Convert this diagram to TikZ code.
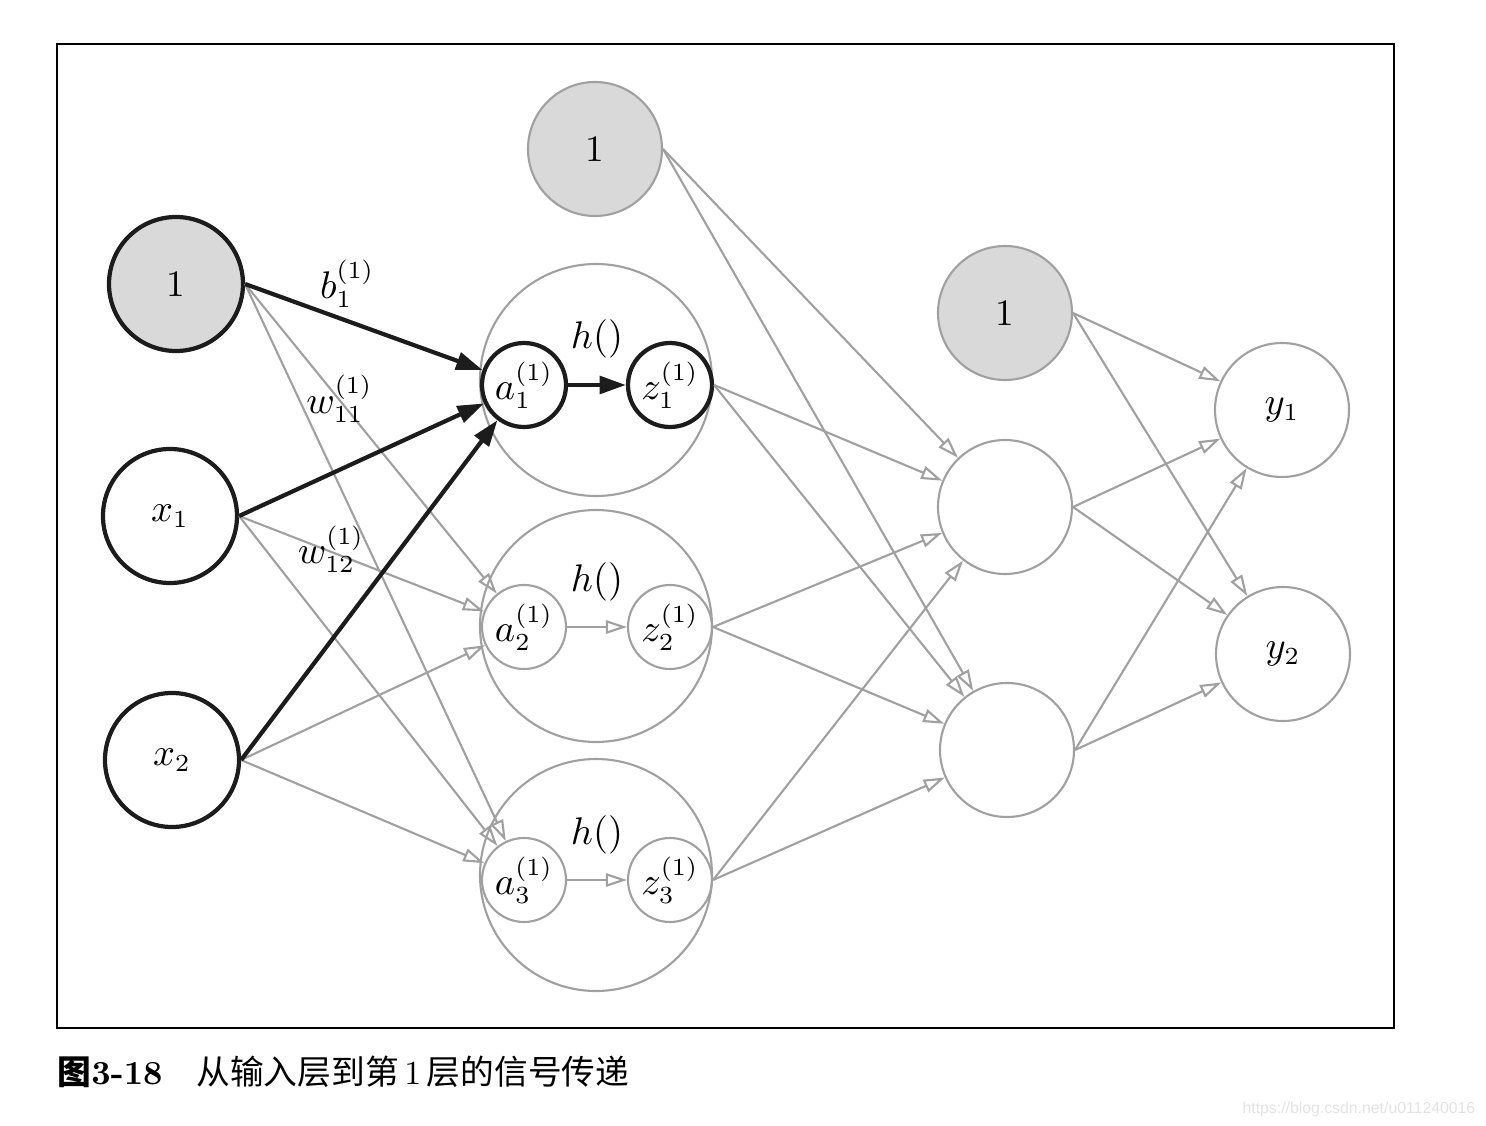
\documentclass[tikz,border=0pt]{standalone}
\usepackage{amsmath}
\usepackage{fontspec}
\usetikzlibrary{arrows.meta}
\newfontfamily\cjkfont{Noto Sans CJK SC}
\newfontfamily\urlfont{Liberation Sans}
\definecolor{mgray}{RGB}{160,160,160}
\definecolor{mfill}{RGB}{217,217,217}
\definecolor{mblack}{RGB}{28,28,28}
\definecolor{mmark}{RGB}{226,226,226}

\begin{document}
\begin{tikzpicture}[
    font=\fontsize{10.6}{12.7}\selectfont,
    neuron/.style={circle, draw=mgray, line width=0.6pt, minimum size=1.34cm, inner sep=0pt},
    active/.style={neuron, draw=mblack, line width=1.2pt},
    inner/.style={circle, draw=mgray, line width=0.6pt, minimum size=0.84cm, inner sep=0pt},
    layer/.style={circle, draw=mgray, line width=0.6pt, minimum size=2.32cm, inner sep=0pt},
    wire/.style={draw=mgray, line width=0.6pt, -{Triangle[open, length=6pt, width=3.8pt]}},
    signal/.style={draw=mblack, line width=1.2pt, -{Triangle[length=7.5pt, width=5pt]}}
]
    \useasboundingbox (0, 0) rectangle (14.86, -11.26);
    \draw[line width=0.5pt] (0.57, -0.44) rectangle (13.94, -10.28);

    % input layer
    \node[active, fill=mfill] (one0) at (1.76, -2.84) {1};
    \node[active]             (x1)   at (1.70, -5.16) {$x_1$};
    \node[active]             (x2)   at (1.72, -7.60) {$x_2$};

    % first layer
    \node[neuron, fill=mfill] (one1) at (5.95, -1.49) {1};
    \node[layer]              (h1)   at (5.96, -3.80) {};
    \node[layer]              (h2)   at (5.96, -6.26) {};
    \node[layer]              (h3)   at (5.96, -8.75) {};
    \node[inner, draw=mblack, line width=1.2pt] (a1) at (5.24, -3.85) {$a_1^{(1)}$};
    \node[inner, draw=mblack, line width=1.2pt] (z1) at (6.70, -3.85) {$z_1^{(1)}$};
    \node[inner]              (a2)   at (5.24, -6.27) {$a_2^{(1)}$};
    \node[inner]              (z2)   at (6.70, -6.27) {$z_2^{(1)}$};
    \node[inner]              (a3)   at (5.24, -8.80) {$a_3^{(1)}$};
    \node[inner]              (z3)   at (6.70, -8.80) {$z_3^{(1)}$};

    % second layer
    \node[neuron, fill=mfill] (one2) at (10.05, -3.13) {1};
    \node[neuron]             (s1)   at (10.05, -5.07) {};
    \node[neuron]             (s2)   at (10.07, -7.50) {};

    % output layer
    \node[neuron]             (y1)   at (12.82, -4.10) {$y_1$};
    \node[neuron]             (y2)   at (12.83, -6.54) {$y_2$};

    % gray connections
    \foreach \src in {one0, x1, x2} {
        \draw[wire] (\src.east) -- (a2);
        \draw[wire] (\src.east) -- (a3);
    }
    \draw[wire] (a2) -- (z2) node[midway, above=1.3mm] {$h()$};
    \draw[wire] (a3) -- (z3) node[midway, above=1.3mm] {$h()$};
    \foreach \src in {one1, z1, z2, z3} {
        \draw[wire] (\src.east) -- (s1);
        \draw[wire] (\src.east) -- (s2);
    }
    \foreach \src in {one2, s1, s2} {
        \draw[wire] (\src.east) -- (y1);
        \draw[wire] (\src.east) -- (y2);
    }

    % signals into a_1
    \draw[signal] (one0.east) -- (a1) node[pos=.43, above] {$b_1^{(1)}$};
    \draw[signal] (x1.east) -- (a1) node[pos=.41, above=3.4mm] {$w_{11}^{(1)}$};
    \draw[signal] (x2.east) -- (a1) node[pos=.62, left=2.2mm] {$w_{12}^{(1)}$};
    \draw[signal] (a1) -- (z1) node[midway, above=1.3mm] {$h()$};

    % caption
    \node[anchor=base west, inner sep=0pt, font=\fontsize{9.6}{12}\selectfont] (caption) at (0.57, -10.84)
        {{\cjkfont\bfseries 图}\textbf{3-18}\hspace{1em}{\cjkfont 从输入层到第}\,1\,{\cjkfont 层的信号传递}};
    \node[anchor=base east, inner sep=0pt, text=mmark] (mark) at (14.76, -11.13)
        {\urlfont\fontsize{4.5}{5}\selectfont https://blog.csdn.net/u011240016};
\end{tikzpicture}
\end{document}
